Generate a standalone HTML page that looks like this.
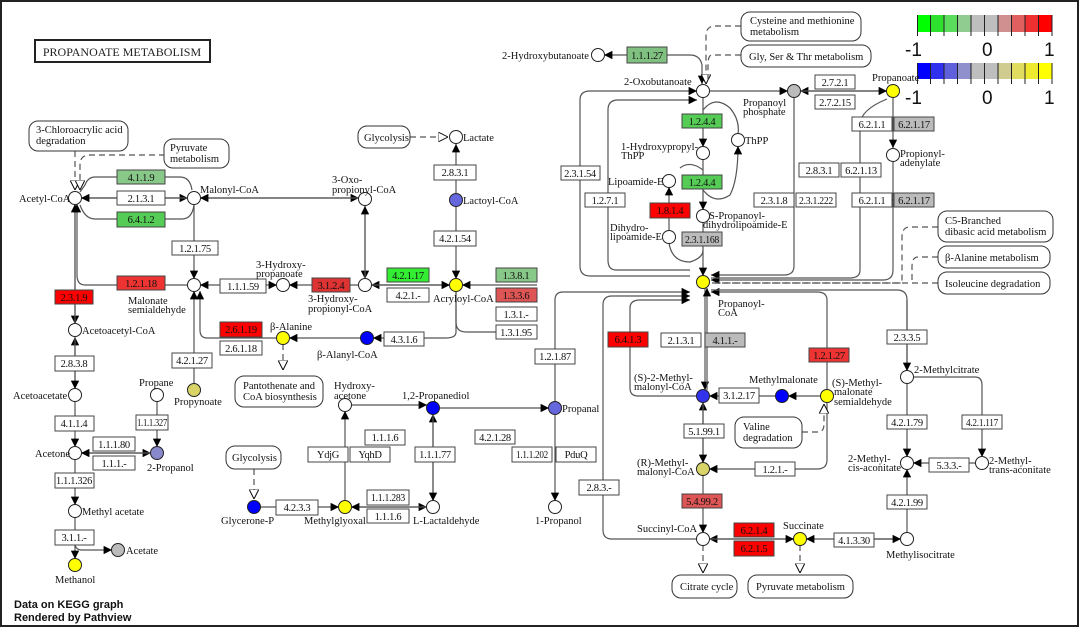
<!DOCTYPE html>
<html><head><meta charset="utf-8"><style>
html,body{margin:0;padding:0;background:#fff;width:1080px;height:628px;overflow:hidden}
svg{display:block}
.e rect{stroke:#444;stroke-width:1}
.e text,.t{font-family:"Liberation Serif",serif;font-size:10.5px;fill:#111}
.e text{text-anchor:middle;letter-spacing:-0.3px}
.l{stroke:#555;stroke-width:1.2;fill:none}
.d{stroke:#555;stroke-width:1.2;fill:none;stroke-dasharray:6 4}
.c{stroke:#222;stroke-width:1;fill:#fff}
.m rect{fill:#fff;stroke:#333;stroke-width:1}
.m text{font-family:"Liberation Serif",serif;font-size:10.5px;fill:#111}
</style></head><body>
<svg width="1080" height="628" viewBox="0 0 1080 628" xmlns="http://www.w3.org/2000/svg">
<defs>
<marker id="a" viewBox="0 0 10 10" refX="10" refY="5" markerWidth="7" markerHeight="7" orient="auto"><path d="M0,0L10,5L0,10z" fill="#000"/></marker>
<marker id="o" viewBox="0 0 10 10" refX="10" refY="5" markerWidth="8" markerHeight="8" orient="auto"><path d="M0,0L10,5L0,10z" fill="#fff" stroke="#000"/></marker>
</defs>
<rect x="1" y="1" width="1077" height="625" fill="#fff" stroke="#222" stroke-width="2"/>
<rect x="35" y="40" width="175" height="22" fill="#fff" stroke="#222" stroke-width="2"/>
<text x="122" y="56" text-anchor="middle" font-family="Liberation Serif,serif" font-size="12" fill="#222">PROPANOATE  METABOLISM</text>

<g stroke="#222" stroke-width="1">
<rect x="917" y="15" width="13.5" height="17" fill="#00ff00" stroke="none"/><rect x="930.5" y="15" width="13.5" height="17" fill="#2ee02e" stroke="none"/><rect x="944" y="15" width="13.5" height="17" fill="#5cdc5c" stroke="none"/><rect x="957.5" y="15" width="13.5" height="17" fill="#90cc90" stroke="none"/><rect x="971" y="15" width="13.5" height="17" fill="#bebebe" stroke="none"/><rect x="984.5" y="15" width="13.5" height="17" fill="#bebebe" stroke="none"/><rect x="998" y="15" width="13.5" height="17" fill="#d09090" stroke="none"/><rect x="1011.5" y="15" width="13.5" height="17" fill="#e06060" stroke="none"/><rect x="1025" y="15" width="13.5" height="17" fill="#ee3030" stroke="none"/><rect x="1038.5" y="15" width="13.5" height="17" fill="#ff0000" stroke="none"/>
<rect x="917" y="63" width="13.5" height="16" fill="#0000ff" stroke="none"/><rect x="930.5" y="63" width="13.5" height="16" fill="#3030ee" stroke="none"/><rect x="944" y="63" width="13.5" height="16" fill="#6060dd" stroke="none"/><rect x="957.5" y="63" width="13.5" height="16" fill="#9090cc" stroke="none"/><rect x="971" y="63" width="13.5" height="16" fill="#bebebe" stroke="none"/><rect x="984.5" y="63" width="13.5" height="16" fill="#bebebe" stroke="none"/><rect x="998" y="63" width="13.5" height="16" fill="#d0cc90" stroke="none"/><rect x="1011.5" y="63" width="13.5" height="16" fill="#e0dc60" stroke="none"/><rect x="1025" y="63" width="13.5" height="16" fill="#eeea30" stroke="none"/><rect x="1038.5" y="63" width="13.5" height="16" fill="#ffff00" stroke="none"/>
<path d="M917.5 15V36M930.5 15V36M944 15V36M957.5 15V36M971 15V36M984.5 15V36M998 15V36M1011.5 15V36M1025 15V36M1038.5 15V36M1052 15V36M917.5 63V84M930.5 63V84M944 63V84M957.5 63V84M971 63V84M984.5 63V84M998 63V84M1011.5 63V84M1025 63V84M1038.5 63V84M1052 63V84"/>
</g>
<g font-family="Liberation Sans,sans-serif" font-size="19" fill="#111">
<text x="905" y="56">-1</text><text x="982" y="56">0</text><text x="1044" y="56">1</text>
<text x="905" y="104">-1</text><text x="982" y="104">0</text><text x="1044" y="104">1</text>
</g>
<text x="14" y="608" font-family="Liberation Sans,sans-serif" font-size="11" font-weight="bold" fill="#111">Data on KEGG graph</text>
<text x="14" y="621" font-family="Liberation Sans,sans-serif" font-size="11" font-weight="bold" fill="#111">Rendered by Pathview</text>

<g class="l">
<path d="M81 198H188" marker-end="url(#a)"/><path d="M188 198H81" marker-end="url(#a)"/>
<path d="M117 177H95Q88 177 85 185L80 192" /><path d="M165 177H180Q190 177 192 190"/>
<path d="M117 219H95Q85 219 80 205"/><path d="M165 219H182Q192 219 194 205"/>
<path d="M200 198H359" marker-end="url(#a)"/><path d="M359 198H200" marker-end="url(#a)"/>
<path d="M194 205V279" marker-end="url(#a)"/>
<path d="M365 206V279" marker-end="url(#a)"/><path d="M365 279V206" marker-end="url(#a)"/>
<path d="M220 285H200" marker-end="url(#a)"/><path d="M266 285H277" marker-end="url(#a)"/>
<path d="M359 285H289" marker-end="url(#a)"/>
<path d="M450 285H371" marker-end="url(#a)"/><path d="M371 285H450" marker-end="url(#a)"/>
<path d="M537 285H462" marker-end="url(#a)"/>
<path d="M456 207V279" marker-end="url(#a)"/><path d="M456 193V144" marker-end="url(#a)"/>
<path d="M456 291V322Q456 332 466 332H500V330H537"/>
<path d="M456 291V332Q456 338 446 338H373" marker-end="url(#a)"/>
<path d="M361 338H289" marker-end="url(#a)"/><path d="M277 338H207Q200 338 200 330V291" marker-end="url(#a)"/>
<path d="M188 285H85Q77 285 77 275V204" marker-end="url(#a)"/>
<path d="M75 204V324" marker-end="url(#a)"/><path d="M75 324V204" marker-end="url(#a)"/>
<path d="M75 389V337" marker-end="url(#a)"/>
<path d="M75 337V389" marker-end="url(#a)"/>
<path d="M75 401V447" marker-end="url(#a)"/>
<path d="M81 453H151" marker-end="url(#a)"/><path d="M151 453H81" marker-end="url(#a)"/>
<path d="M157 401V447" marker-end="url(#a)"/>
<path d="M75 459V505" marker-end="url(#a)"/>
<path d="M75 517V559" marker-end="url(#a)"/><path d="M75 543Q75 550 82 550H112" marker-end="url(#a)"/>
<path d="M194 384V291" marker-end="url(#a)"/>
<path d="M351 405H427" marker-end="url(#a)"/><path d="M439 408H549" marker-end="url(#a)"/>
<path d="M433 501V414" marker-end="url(#a)"/><path d="M433 414V501" marker-end="url(#a)"/>
<path d="M555 414V501" marker-end="url(#a)"/><path d="M555 402V300Q555 292 563 292H690" marker-end="url(#a)"/>
<path d="M345 501V411" marker-end="url(#a)"/>
<path d="M260 507H339" marker-end="url(#a)"/>
<path d="M351 507H427" marker-end="url(#a)"/><path d="M427 507H351" marker-end="url(#a)"/>
<path d="M627 55H604" marker-end="url(#a)"/><path d="M667 55H690Q700 55 702 65V84" marker-end="url(#a)"/>
<path d="M709 91H788" marker-end="url(#a)"/><path d="M887 91H800" marker-end="url(#a)"/><path d="M800 91H887" marker-end="url(#a)"/>
<path d="M703 97V147" marker-end="url(#a)"/><path d="M703 159V210" marker-end="url(#a)"/><path d="M703 222V276" marker-end="url(#a)"/>
<path d="M703 110Q715 95 730 108Q740 120 738 134"/><path d="M703 190Q715 205 730 195Q738 180 738 146" marker-end="url(#a)"/>
<path d="M703 170Q690 160 680 168"/><path d="M669 231V187" marker-end="url(#a)"/><path d="M669 243Q672 262 690 262Q703 258 703 250"/>
<path d="M690 276H590Q580 276 580 266V100Q580 91 590 91H697" marker-end="url(#a)"/>
<path d="M690 270H616Q608 270 608 260V110Q608 100 618 100H697" marker-end="url(#a)"/>
<path d="M794 97V266Q794 275 784 275H711" marker-end="url(#a)"/>
<path d="M893 97V148" marker-end="url(#a)"/><path d="M893 161V270Q893 280 883 280H711" marker-end="url(#a)"/>
<path d="M887 99Q860 110 860 125V270Q860 278 850 278H711"/>
<path d="M705 288V390" marker-end="url(#a)"/><path d="M707 390V288" marker-end="url(#a)"/>
<path d="M697 396H638Q630 396 630 388V308Q630 300 640 300H690" marker-end="url(#a)"/>
<path d="M776 396H709" marker-end="url(#a)"/><path d="M821 396H788" marker-end="url(#a)"/>
<path d="M827 390V300Q827 292 817 292H711" marker-end="url(#a)"/>
<path d="M703 463V402" marker-end="url(#a)"/><path d="M703 402V463" marker-end="url(#a)"/>
<path d="M827 402V460Q827 469 817 469H709" marker-end="url(#a)"/>
<path d="M703 475V533" marker-end="url(#a)"/>
<path d="M794 539H709" marker-end="url(#a)"/><path d="M709 539H794" marker-end="url(#a)"/>
<path d="M901 539H806" marker-end="url(#a)"/><path d="M834 539H901" marker-end="url(#a)"/>
<path d="M697 539H612Q603 539 603 530V305Q603 296 612 296H690" marker-end="url(#a)"/>
<path d="M907 371V300Q907 290 897 290H711"/><path d="M907 300V371" marker-end="url(#a)"/>
<path d="M907 383V457" marker-end="url(#a)"/><path d="M913 377H975Q982 377 982 385V457" marker-end="url(#a)"/>
<path d="M976 463H913" marker-end="url(#a)"/><path d="M907 533V469" marker-end="url(#a)"/>
</g>
<g class="d">
<path d="M75 151V190" marker-end="url(#o)"/><path d="M165 155H90Q80 155 80 165V190" marker-end="url(#o)"/>
<path d="M410 137H448" marker-end="url(#o)"/>
<path d="M283 344V370" marker-end="url(#o)"/><path d="M254 469V499" marker-end="url(#o)"/>
<path d="M741 26H715Q706 26 706 36V84" marker-end="url(#o)"/><path d="M741 55H712Q708 55 708 65V84"/>
<path d="M938 227H910Q902 227 902 237V283H711"/><path d="M938 257H918Q912 257 912 267V283"/><path d="M938 283H711"/>
<path d="M802 432H818Q824 432 824 424V404" marker-end="url(#o)"/>
<path d="M703 545V573" marker-end="url(#o)"/><path d="M800 545V573" marker-end="url(#o)"/>
</g>

<g class="e">
<rect x="627" y="47" width="40" height="16" fill="#80c080"/><text x="647" y="59">1.1.1.27</text>
<rect x="117" y="170" width="48" height="14" fill="#88c888"/><text x="141" y="181">4.1.1.9</text>
<rect x="117" y="191" width="48" height="14" fill="#fff"/><text x="141" y="202">2.1.3.1</text>
<rect x="117" y="212" width="48" height="15" fill="#55cc55"/><text x="141" y="223">6.4.1.2</text>
<rect x="172" y="241" width="46" height="14" fill="#fff"/><text x="195" y="252">1.2.1.75</text>
<rect x="117" y="276" width="48" height="14" fill="#ee3333"/><text x="141" y="287">1.2.1.18</text>
<rect x="55" y="290" width="38" height="14" fill="#ff0000"/><text x="74" y="301">2.3.1.9</text>
<rect x="220" y="279" width="46" height="14" fill="#fff"/><text x="243" y="290">1.1.1.59</text>
<rect x="312" y="278" width="38" height="14" fill="#dd3333"/><text x="331" y="289">3.1.2.4</text>
<rect x="387" y="268" width="42" height="14" fill="#33ee33"/><text x="408" y="279">4.2.1.17</text>
<rect x="387" y="288" width="42" height="14" fill="#fff"/><text x="408" y="299">4.2.1.-</text>
<rect x="434" y="165" width="42" height="15" fill="#fff"/><text x="455" y="176">2.8.3.1</text>
<rect x="434" y="231" width="42" height="15" fill="#fff"/><text x="455" y="242">4.2.1.54</text>
<rect x="496" y="268" width="41" height="14" fill="#88c888"/><text x="516" y="279">1.3.8.1</text>
<rect x="496" y="288" width="41" height="14" fill="#dd5555"/><text x="516" y="299">1.3.3.6</text>
<rect x="496" y="307" width="41" height="14" fill="#fff"/><text x="516" y="318">1.3.1.-</text>
<rect x="496" y="325" width="41" height="14" fill="#fff"/><text x="516" y="336">1.3.1.95</text>
<rect x="220" y="322" width="42" height="15" fill="#ff0000"/><text x="241" y="333">2.6.1.19</text>
<rect x="220" y="341" width="42" height="14" fill="#fff"/><text x="241" y="352">2.6.1.18</text>
<rect x="384" y="332" width="40" height="14" fill="#fff"/><text x="404" y="343">4.3.1.6</text>
<rect x="172" y="353" width="40" height="15" fill="#fff"/><text x="192" y="364">4.2.1.27</text>
<rect x="55" y="356" width="39" height="15" fill="#fff"/><text x="74" y="367">2.8.3.8</text>
<rect x="55" y="416" width="39" height="15" fill="#fff"/><text x="74" y="427">4.1.1.4</text>
<rect x="93" y="437" width="42" height="14" fill="#fff"/><text x="114" y="448">1.1.1.80</text>
<rect x="93" y="456" width="42" height="14" fill="#fff"/><text x="114" y="467">1.1.1.-</text>
<rect x="136" y="415" width="32" height="15" fill="#fff"/><text x="152" y="426" textLength="30" lengthAdjust="spacingAndGlyphs">1.1.1.327</text>
<rect x="55" y="473" width="39" height="15" fill="#fff"/><text x="74" y="484" textLength="36" lengthAdjust="spacingAndGlyphs">1.1.1.326</text>
<rect x="55" y="530" width="39" height="15" fill="#fff"/><text x="74" y="541">3.1.1.-</text>
<rect x="308" y="447" width="40" height="15" fill="#fff"/><text x="328" y="458">YdjG</text>
<rect x="350" y="447" width="40" height="15" fill="#fff"/><text x="370" y="458">YqhD</text>
<rect x="365" y="430" width="40" height="15" fill="#fff"/><text x="385" y="441">1.1.1.6</text>
<rect x="415" y="447" width="40" height="15" fill="#fff"/><text x="435" y="458">1.1.1.77</text>
<rect x="475" y="430" width="40" height="14" fill="#fff"/><text x="495" y="441">4.2.1.28</text>
<rect x="535" y="349" width="40" height="15" fill="#fff"/><text x="555" y="360">1.2.1.87</text>
<rect x="512" y="447" width="40" height="15" fill="#fff"/><text x="532" y="458" textLength="32" lengthAdjust="spacingAndGlyphs">1.1.1.202</text>
<rect x="556" y="447" width="40" height="15" fill="#fff"/><text x="576" y="458">PduQ</text>
<rect x="276" y="500" width="42" height="15" fill="#fff"/><text x="297" y="511">4.2.3.3</text>
<rect x="367" y="490" width="42" height="15" fill="#fff"/><text x="388" y="501" textLength="34" lengthAdjust="spacingAndGlyphs">1.1.1.283</text>
<rect x="367" y="509" width="42" height="14" fill="#fff"/><text x="388" y="520">1.1.1.6</text>
<rect x="579" y="480" width="40" height="15" fill="#fff"/><text x="599" y="491">2.8.3.-</text>
<rect x="561" y="166" width="39" height="14" fill="#fff"/><text x="580" y="177">2.3.1.54</text>
<rect x="585" y="193" width="40" height="14" fill="#fff"/><text x="605" y="204">1.2.7.1</text>
<rect x="682" y="114" width="40" height="14" fill="#55cc55"/><text x="702" y="125">1.2.4.4</text>
<rect x="682" y="175" width="40" height="14" fill="#55cc55"/><text x="702" y="186">1.2.4.4</text>
<rect x="650" y="203" width="40" height="15" fill="#ff0000"/><text x="670" y="214">1.8.1.4</text>
<rect x="682" y="232" width="40" height="14" fill="#bbbbbb"/><text x="702" y="243" textLength="34" lengthAdjust="spacingAndGlyphs">2.3.1.168</text>
<rect x="754" y="193" width="40" height="14" fill="#fff"/><text x="774" y="204">2.3.1.8</text>
<rect x="796" y="193" width="40" height="14" fill="#fff"/><text x="816" y="204" textLength="34" lengthAdjust="spacingAndGlyphs">2.3.1.222</text>
<rect x="799" y="163" width="40" height="14" fill="#fff"/><text x="819" y="174">2.8.3.1</text>
<rect x="841" y="163" width="40" height="14" fill="#fff"/><text x="861" y="174">6.2.1.13</text>
<rect x="815" y="75" width="40" height="14" fill="#fff"/><text x="835" y="86">2.7.2.1</text>
<rect x="815" y="95" width="40" height="14" fill="#fff"/><text x="835" y="106">2.7.2.15</text>
<rect x="852" y="117" width="40" height="14" fill="#fff"/><text x="872" y="128">6.2.1.1</text>
<rect x="894" y="117" width="40" height="14" fill="#bbbbbb"/><text x="914" y="128">6.2.1.17</text>
<rect x="852" y="193" width="40" height="14" fill="#fff"/><text x="872" y="204">6.2.1.1</text>
<rect x="894" y="193" width="40" height="14" fill="#bbbbbb"/><text x="914" y="204">6.2.1.17</text>
<rect x="608" y="332" width="40" height="15" fill="#ff0000"/><text x="628" y="343">6.4.1.3</text>
<rect x="661" y="333" width="40" height="14" fill="#fff"/><text x="681" y="344">2.1.3.1</text>
<rect x="705" y="333" width="40" height="14" fill="#bbbbbb"/><text x="725" y="344">4.1.1.-</text>
<rect x="809" y="348" width="40" height="14" fill="#ee3333"/><text x="829" y="359">1.2.1.27</text>
<rect x="719" y="388" width="40" height="15" fill="#fff"/><text x="739" y="399">3.1.2.17</text>
<rect x="684" y="424" width="40" height="14" fill="#fff"/><text x="704" y="435">5.1.99.1</text>
<rect x="755" y="462" width="40" height="14" fill="#fff"/><text x="775" y="473">1.2.1.-</text>
<rect x="682" y="494" width="40" height="14" fill="#dd5555"/><text x="702" y="505">5.4.99.2</text>
<rect x="734" y="523" width="40" height="14" fill="#ff0000"/><text x="754" y="534">6.2.1.4</text>
<rect x="734" y="541" width="40" height="15" fill="#ff0000"/><text x="754" y="552">6.2.1.5</text>
<rect x="834" y="533" width="40" height="14" fill="#fff"/><text x="854" y="544">4.1.3.30</text>
<rect x="887" y="330" width="40" height="14" fill="#fff"/><text x="907" y="341">2.3.3.5</text>
<rect x="887" y="415" width="40" height="14" fill="#fff"/><text x="907" y="426">4.2.1.79</text>
<rect x="962" y="415" width="40" height="14" fill="#fff"/><text x="982" y="426" textLength="32" lengthAdjust="spacingAndGlyphs">4.2.1.117</text>
<rect x="929" y="458" width="40" height="14" fill="#fff"/><text x="949" y="469">5.3.3.-</text>
<rect x="887" y="495" width="40" height="14" fill="#fff"/><text x="907" y="506">4.2.1.99</text>
</g>

<g class="m">
<rect x="29" y="121" width="99" height="30" rx="9"/><text x="36" y="133">3-Chloroacrylic acid</text><text x="36" y="144">degradation</text>
<rect x="164" y="139" width="65" height="29" rx="9"/><text x="170" y="151">Pyruvate</text><text x="170" y="162">metabolism</text>
<rect x="358" y="126" width="52" height="22" rx="9"/><text x="364" y="141">Glycolysis</text>
<rect x="235" y="376" width="88" height="31" rx="9"/><text x="243" y="389">Pantothenate and</text><text x="243" y="400">CoA biosynthesis</text>
<rect x="226" y="446" width="55" height="23" rx="9"/><text x="232" y="461">Glycolysis</text>
<rect x="741" y="12" width="120" height="29" rx="9"/><text x="750" y="24">Cysteine and methionine</text><text x="750" y="35">metabolism</text>
<rect x="741" y="45" width="130" height="22" rx="9"/><text x="749" y="60">Gly, Ser &amp; Thr metabolism</text>
<rect x="938" y="211" width="115" height="31" rx="9"/><text x="945" y="224">C5-Branched</text><text x="945" y="235">dibasic acid metabolism</text>
<rect x="938" y="246" width="112" height="22" rx="9"/><text x="945" y="261">β-Alanine metabolism</text>
<rect x="938" y="272" width="112" height="22" rx="9"/><text x="945" y="287">Isoleucine degradation</text>
<rect x="735" y="417" width="67" height="31" rx="9"/><text x="743" y="430">Valine</text><text x="743" y="441">degradation</text>
<rect x="672" y="575" width="65" height="23" rx="9"/><text x="680" y="590">Citrate cycle</text>
<rect x="748" y="575" width="105" height="23" rx="9"/><text x="756" y="590">Pyruvate metabolism</text>
</g>

<g>
<circle class="c" cx="75" cy="198" r="6.5"/><circle class="c" cx="194" cy="198" r="6.5"/><circle class="c" cx="365" cy="199" r="6.5"/>
<circle class="c" cx="456" cy="137" r="6.5"/><circle class="c" cx="456" cy="200" r="6.5" style="fill:#6666dd"/>
<circle class="c" cx="194" cy="285" r="6.5"/><circle class="c" cx="283" cy="285" r="6.5"/><circle class="c" cx="365" cy="285" r="6.5"/>
<circle class="c" cx="456" cy="285" r="6.5" style="fill:#ffff00"/>
<circle class="c" cx="283" cy="338" r="6.5" style="fill:#ffff00"/><circle class="c" cx="367" cy="338" r="6.5" style="fill:#0000ff"/>
<circle class="c" cx="75" cy="330" r="6.5"/><circle class="c" cx="75" cy="395" r="6.5"/><circle class="c" cx="75" cy="453" r="6.5"/>
<circle class="c" cx="157" cy="453" r="6.5" style="fill:#8888cc"/><circle class="c" cx="157" cy="395" r="6.5"/>
<circle class="c" cx="194" cy="390" r="6.5" style="fill:#d8d468"/>
<circle class="c" cx="75" cy="511" r="6.5"/><circle class="c" cx="75" cy="565" r="6.5" style="fill:#ffff00"/><circle class="c" cx="118" cy="550" r="6.5" style="fill:#bbbbbb"/>
<circle class="c" cx="345" cy="405" r="6.5"/><circle class="c" cx="433" cy="408" r="6.5" style="fill:#0000ff"/><circle class="c" cx="555" cy="408" r="6.5" style="fill:#6666dd"/>
<circle class="c" cx="254" cy="507" r="6.5" style="fill:#0000ff"/><circle class="c" cx="345" cy="507" r="6.5" style="fill:#ffff00"/>
<circle class="c" cx="433" cy="507" r="6.5"/><circle class="c" cx="555" cy="507" r="6.5"/>
<circle class="c" cx="598" cy="55" r="6.5"/><circle class="c" cx="703" cy="91" r="6.5"/><circle class="c" cx="794" cy="91" r="6.5" style="fill:#bbbbbb"/>
<circle class="c" cx="893" cy="91" r="6.5" style="fill:#ffff00"/><circle class="c" cx="738" cy="140" r="6.5"/><circle class="c" cx="703" cy="153" r="6.5"/>
<circle class="c" cx="669" cy="181" r="6.5"/><circle class="c" cx="703" cy="216" r="6.5"/><circle class="c" cx="669" cy="237" r="6.5"/>
<circle class="c" cx="893" cy="155" r="6.5"/><circle class="c" cx="703" cy="282" r="6.5" style="fill:#ffff00"/>
<circle class="c" cx="703" cy="396" r="6.5" style="fill:#3333ee"/><circle class="c" cx="782" cy="396" r="6.5" style="fill:#0000ff"/>
<circle class="c" cx="827" cy="396" r="6.5" style="fill:#ffff00"/><circle class="c" cx="703" cy="469" r="6.5" style="fill:#d8d468"/>
<circle class="c" cx="703" cy="539" r="6.5"/><circle class="c" cx="800" cy="539" r="6.5" style="fill:#ffff00"/><circle class="c" cx="907" cy="539" r="6.5"/>
<circle class="c" cx="907" cy="377" r="6.5"/><circle class="c" cx="907" cy="463" r="6.5"/><circle class="c" cx="982" cy="463" r="6.5"/>
</g>

<g class="t">
<text x="19" y="202">Acetyl-CoA</text><text x="200" y="193">Malonyl-CoA</text>
<text x="332" y="183">3-Oxo-</text><text x="332" y="193">propionyl-CoA</text>
<text x="463" y="141">Lactate</text><text x="463" y="204">Lactoyl-CoA</text>
<text x="128" y="304">Malonate</text><text x="128" y="313">semialdehyde</text>
<text x="256" y="268">3-Hydroxy-</text><text x="256" y="277">propanoate</text>
<text x="308" y="302">3-Hydroxy-</text><text x="308" y="312">propionyl-CoA</text>
<text x="433" y="302">Acryloyl-CoA</text>
<text x="270" y="330">β-Alanine</text><text x="317" y="358">β-Alanyl-CoA</text>
<text x="82" y="334">Acetoacetyl-CoA</text><text x="13" y="399">Acetoacetate</text><text x="35" y="457">Acetone</text>
<text x="139" y="386">Propane</text><text x="147" y="471">2-Propanol</text><text x="174" y="405">Propynoate</text>
<text x="82" y="515">Methyl acetate</text><text x="55" y="583">Methanol</text><text x="126" y="554">Acetate</text>
<text x="334" y="389">Hydroxy-</text><text x="334" y="399">acetone</text>
<text x="402" y="399">1,2-Propanediol</text><text x="562" y="412">Propanal</text>
<text x="221" y="524">Glycerone-P</text><text x="304" y="524">Methylglyoxal</text>
<text x="413" y="524">L-Lactaldehyde</text><text x="535" y="524">1-Propanol</text>
<text x="502" y="59">2-Hydroxybutanoate</text><text x="624" y="85">2-Oxobutanoate</text>
<text x="743" y="106">Propanoyl</text><text x="743" y="115">phosphate</text><text x="872" y="81">Propanoate</text>
<text x="745" y="144">ThPP</text><text x="621" y="150">1-Hydroxypropyl-</text><text x="621" y="159">ThPP</text>
<text x="608" y="185">Lipoamide-E</text><text x="709" y="219">S-Propanoyl-</text><text x="703" y="228">dihydrolipoamide-E</text>
<text x="610" y="231">Dihydro-</text><text x="610" y="240">lipoamide-E</text>
<text x="900" y="157">Propionyl-</text><text x="900" y="166">adenylate</text>
<text x="718" y="307">Propanoyl-</text><text x="718" y="316">CoA</text>
<text x="634" y="381">(S)-2-Methyl-</text><text x="634" y="390">malonyl-CoA</text>
<text x="749" y="383">Methylmalonate</text>
<text x="832" y="386">(S)-Methyl-</text><text x="834" y="395">malonate</text><text x="834" y="405">semialdehyde</text>
<text x="637" y="466">(R)-Methyl-</text><text x="637" y="475">malonyl-CoA</text>
<text x="637" y="532">Succinyl-CoA</text><text x="783" y="529">Succinate</text><text x="886" y="558">Methylisocitrate</text>
<text x="914" y="373">2-Methylcitrate</text>
<text x="848" y="462">2-Methyl-</text><text x="848" y="471">cis-aconitate</text>
<text x="989" y="464">2-Methyl-</text><text x="989" y="473">trans-aconitate</text>
</g>
</svg>
</body></html>
